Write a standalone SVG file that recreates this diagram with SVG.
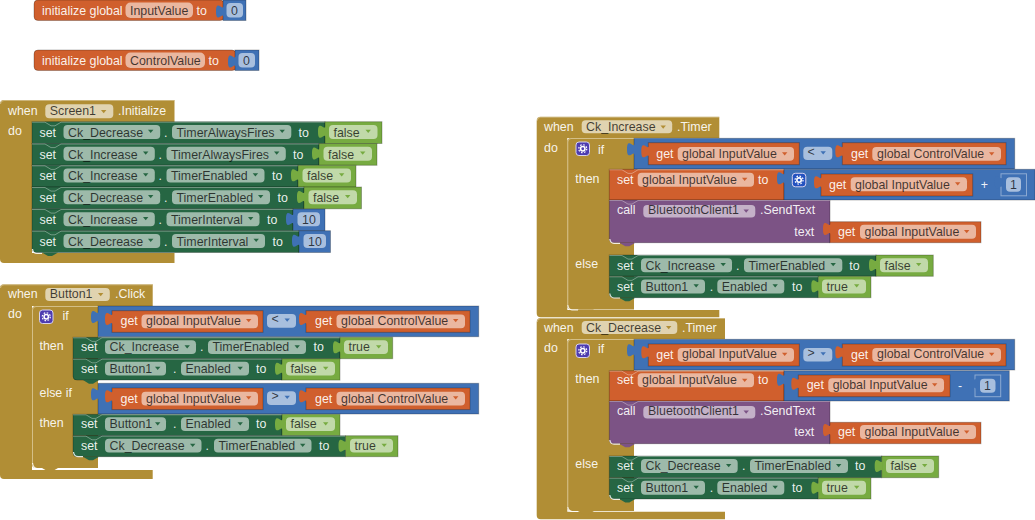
<svg xmlns="http://www.w3.org/2000/svg" width="1035" height="520" viewBox="0 0 1035 520">
<style>
text{font-family:"Liberation Sans",Arial,sans-serif;font-size:12.4px}
.w{fill:#fff;fill-opacity:.92}
.d{fill:#000;fill-opacity:.72}
.p{fill:#fff;fill-opacity:.55}
.c{fill:#e0d3b0}
.br{fill:#b18e35}.g{fill:#266643}.l{fill:#77ab41}.b{fill:#3f71b5}.o{fill:#d05f2d}.u{fill:#7c5385}
.e{stroke:#000;stroke-opacity:.25;stroke-width:1}
.hl{fill:none;stroke:#fff;stroke-opacity:.35;stroke-width:1}
.cn{fill:none;stroke:#fff;stroke-opacity:.85;stroke-width:1.2}
.ln{fill:none;stroke:#d4bf87;stroke-width:1}
.s{stroke:#fff;stroke-opacity:.4;stroke-width:1}
</style>
<defs>
<path id="a" d="M0 0h5.4l-2.7 3.2z"/>
<path id="t" d="M1 3c0 9-8-7-8 7s8-2 8 7z"/>
<path id="n" d="M0 0l6 3.6h4l6-3.6z"/>
<g id="gp"><rect width="13.5" height="13.5" rx="3" stroke="#d7d2ee" stroke-width="1"/><circle cx="6.75" cy="6.75" r="2.2" fill="none" stroke="#fff" stroke-width="1.6"/><circle cx="6.75" cy="6.75" r="4" fill="none" stroke="#fff" stroke-width="1.2" stroke-dasharray="1.6 1.54"/></g>
</defs>

<g id="init-input">
<rect class="o e" x="34" y="0" width="190" height="20.5" rx="4"/>
<text class="w" x="42" y="15">initialize global</text>
<rect class="p" x="125.5" y="2.5" width="67.5" height="15.5" rx="5"/><text class="d" x="130" y="15">InputValue</text>
<text class="w" x="196.5" y="15">to</text>
<g class="b"><rect class="e" x="223" y="0" width="23" height="20.5"/><use href="#t" x="223" y="1.5"/><rect class="p" x="226.5" y="3" width="16.5" height="14.5" rx="4"/><text class="d" x="231" y="15">0</text></g>
</g>

<g id="init-control">
<rect class="o e" x="34" y="50" width="202" height="20.5" rx="4"/>
<text class="w" x="42" y="65">initialize global</text>
<rect class="p" x="125.5" y="52.5" width="79.5" height="15.5" rx="5"/><text class="d" x="130" y="65">ControlValue</text>
<text class="w" x="208.5" y="65">to</text>
<g class="b"><rect class="e" x="235" y="50" width="24" height="20.5"/><use href="#t" x="235" y="51.5"/><rect class="p" x="238.5" y="53" width="16.5" height="14.5" rx="4"/><text class="d" x="243" y="65">0</text></g>
</g>

<g id="screen1-initialize">
<path class="br" d="M4 100H174.5V122H32V253H174.5V263H4Q0 263 0 259V104Q0 100 4 100Z"/>
<path class="hl" d="M.5 104Q.5 100.5 4 100.5H174"/>
<text class="w" x="8" y="115">when</text>
<rect class="c" x="45.3" y="104.3" width="68" height="14" rx="4"/><text class="d" x="49.8" y="115">Screen1</text><use class="br" href="#a" x="101" y="110"/>
<text class="w" x="118" y="115">.Initialize</text>
<text class="w" x="8" y="135">do</text>

<g class="g" transform="translate(0,121.7)"><rect class="e" x="32" width="293" height="21.8"/><path class="hl" d="M32 .5H45l6 3.6h4l6-3.6H325"/>
<text class="w" x="39.5" y="15">set</text><rect class="p" x="63.5" y="3.3" width="96.7" height="14" rx="4"/><text class="d" x="68" y="15">Ck_Decrease</text><use href="#a" x="148" y="8"/>
<text class="w" x="164" y="15">.</text><rect class="p" x="172" y="3.3" width="119.3" height="14" rx="4"/><text class="d" x="176.5" y="15">TimerAlwaysFires</text><use href="#a" x="279.5" y="8"/><text class="w" x="298.5" y="15">to</text>
<g class="l"><rect class="e" x="325" width="57" height="21.8"/><use href="#t" x="325"/><rect class="p" x="329" y="3.3" width="48.5" height="14" rx="4"/><text class="d" x="333.5" y="15">false</text><use href="#a" x="365.5" y="8"/></g></g>

<g class="g" transform="translate(0,143.5)"><rect class="e" x="32" width="287" height="21.8"/><path class="hl" d="M32 .5H45l6 3.6h4l6-3.6H319"/>
<text class="w" x="39.5" y="15">set</text><rect class="p" x="63.5" y="3.3" width="91.3" height="14" rx="4"/><text class="d" x="68" y="15">Ck_Increase</text><use href="#a" x="143" y="8"/>
<text class="w" x="158.5" y="15">.</text><rect class="p" x="166.5" y="3.3" width="119.3" height="14" rx="4"/><text class="d" x="171" y="15">TimerAlwaysFires</text><use href="#a" x="274" y="8"/><text class="w" x="293" y="15">to</text>
<g class="l"><rect class="e" x="319" width="58" height="21.8"/><use href="#t" x="319"/><rect class="p" x="323.5" y="3.3" width="48.5" height="14" rx="4"/><text class="d" x="328" y="15">false</text><use href="#a" x="360" y="8"/></g></g>

<g class="g" transform="translate(0,165.3)"><rect class="e" x="32" width="266" height="21.8"/><path class="hl" d="M32 .5H45l6 3.6h4l6-3.6H298"/>
<text class="w" x="39.5" y="15">set</text><rect class="p" x="63.5" y="3.3" width="91.3" height="14" rx="4"/><text class="d" x="68" y="15">Ck_Increase</text><use href="#a" x="143" y="8"/>
<text class="w" x="158.5" y="15">.</text><rect class="p" x="166.5" y="3.3" width="98" height="14" rx="4"/><text class="d" x="171" y="15">TimerEnabled</text><use href="#a" x="252.7" y="8"/><text class="w" x="272" y="15">to</text>
<g class="l"><rect class="e" x="298" width="58" height="21.8"/><use href="#t" x="298"/><rect class="p" x="302.5" y="3.3" width="48.5" height="14" rx="4"/><text class="d" x="307" y="15">false</text><use href="#a" x="339" y="8"/></g></g>

<g class="g" transform="translate(0,187)"><rect class="e" x="32" width="272" height="21.8"/><path class="hl" d="M32 .5H45l6 3.6h4l6-3.6H304"/>
<text class="w" x="39.5" y="15">set</text><rect class="p" x="63.5" y="3.3" width="96.7" height="14" rx="4"/><text class="d" x="68" y="15">Ck_Decrease</text><use href="#a" x="148" y="8"/>
<text class="w" x="164" y="15">.</text><rect class="p" x="172" y="3.3" width="98" height="14" rx="4"/><text class="d" x="176.5" y="15">TimerEnabled</text><use href="#a" x="258" y="8"/><text class="w" x="277.5" y="15">to</text>
<g class="l"><rect class="e" x="304" width="57.5" height="21.8"/><use href="#t" x="304"/><rect class="p" x="308.5" y="3.3" width="48.5" height="14" rx="4"/><text class="d" x="313" y="15">false</text><use href="#a" x="345" y="8"/></g></g>

<g class="g" transform="translate(0,209)"><rect class="e" x="32" width="261" height="21.8"/><path class="hl" d="M32 .5H45l6 3.6h4l6-3.6H293"/>
<text class="w" x="39.5" y="15">set</text><rect class="p" x="63.5" y="3.3" width="91.3" height="14" rx="4"/><text class="d" x="68" y="15">Ck_Increase</text><use href="#a" x="143" y="8"/>
<text class="w" x="158.5" y="15">.</text><rect class="p" x="166.5" y="3.3" width="93" height="14" rx="4"/><text class="d" x="171" y="15">TimerInterval</text><use href="#a" x="248" y="8"/><text class="w" x="267" y="15">to</text>
<g class="b"><rect class="e" x="293" width="32" height="21.8"/><use href="#t" x="293"/><rect class="p" x="297.5" y="3.3" width="22.5" height="14" rx="4"/><text class="d" x="302" y="15">10</text></g></g>

<g class="g" transform="translate(0,230.7)"><path class="e" d="M32 0H299V21.8H36Q32 21.8 32 18Z"/><path class="hl" d="M32 .5H45l6 3.6h4l6-3.6H299"/><use href="#n" x="42" y="21.8"/>
<text class="w" x="39.5" y="15">set</text><rect class="p" x="63.5" y="3.3" width="96.7" height="14" rx="4"/><text class="d" x="68" y="15">Ck_Decrease</text><use href="#a" x="148" y="8"/>
<text class="w" x="164" y="15">.</text><rect class="p" x="172" y="3.3" width="93" height="14" rx="4"/><text class="d" x="176.5" y="15">TimerInterval</text><use href="#a" x="253.5" y="8"/><text class="w" x="272.5" y="15">to</text>
<g class="b"><rect class="e" x="299" width="31.5" height="21.8"/><use href="#t" x="299"/><rect class="p" x="303.5" y="3.3" width="22.5" height="14" rx="4"/><text class="d" x="308" y="15">10</text></g></g>
<path class="cn" d="M32.5 249Q33 253.5 37 253.5H42"/>
</g>

<g id="button1-click">
<path class="br" d="M4 284.3H152.7V306H32V470H152.7V479H4Q0 479 0 475V288Q0 284.3 4 284.3Z"/>
<path class="hl" d="M.5 288Q.5 284.8 4 284.8H152"/>
<text class="w" x="8" y="298.3">when</text>
<rect class="c" x="45.3" y="288" width="64.5" height="13" rx="4"/><text class="d" x="49.8" y="298.3">Button1</text><use class="br" href="#a" x="98" y="293"/>
<text class="w" x="115" y="298.3">.Click</text>
<text class="w" x="8" y="318">do</text>
<g id="if-click">
<path class="br" d="M32 310Q32 306 36 306H98V468H36Q32 468 32 464Z"/><use class="br" href="#n" x="42" y="468"/>
<path class="ln" d="M32.5 464V310Q32.5 306.5 36 306.5H98"/><path class="cn" d="M32.5 463Q33 468 37 468.5H42"/>
<use href="#gp" x="39.5" y="310" fill="#4d3cb0"/>
<text class="w" x="62.5" y="320">if</text>
<text class="w" x="39.5" y="350">then</text><text class="w" x="39.5" y="396.6">else if</text><text class="w" x="39.5" y="426.7">then</text>

<g class="b" transform="translate(0,306)"><rect class="e" x="98" width="380.7" height="30.7"/><use href="#t" x="98" y="1"/>
<rect class="p" x="267" y="8" width="29" height="13.7" rx="4"/><text class="d" x="271.5" y="17">&lt;</text><use href="#a" x="284.5" y="12.5"/>
<g class="o"><rect class="e" x="112" y="4.7" width="151" height="21.6"/><use href="#t" x="112" y="3"/><text class="w" x="120.5" y="19.3">get</text><rect class="p" x="141.5" y="8.5" width="116.5" height="13.7" rx="4"/><text class="d" x="146" y="19.3">global InputValue</text><use href="#a" x="246" y="13"/></g>
<g class="o"><rect class="e" x="306" y="4.7" width="164" height="21.6"/><use href="#t" x="306" y="3"/><text class="w" x="315" y="19.3">get</text><rect class="p" x="336.5" y="8.5" width="128.5" height="13.7" rx="4"/><text class="d" x="341" y="19.3">global ControlValue</text><use href="#a" x="453" y="13"/></g></g>

<g class="g" transform="translate(0,337.3)"><rect class="e" x="73" width="267" height="21.4"/><path class="hl" d="M73 .5H86l6 3.6h4l6-3.6H340"/>
<text class="w" x="81" y="14">set</text><rect class="p" x="105" y="3" width="91" height="13.7" rx="4"/><text class="d" x="109.5" y="14">Ck_Increase</text><use href="#a" x="184.5" y="8"/>
<text class="w" x="200" y="14">.</text><rect class="p" x="208" y="3" width="98" height="13.7" rx="4"/><text class="d" x="212.5" y="14">TimerEnabled</text><use href="#a" x="294.5" y="8"/><text class="w" x="313.6" y="14">to</text>
<g class="l"><rect class="e" x="340" width="52.7" height="21.4"/><use href="#t" x="340"/><rect class="p" x="344" y="3" width="44" height="13.7" rx="4"/><text class="d" x="348.5" y="14">true</text><use href="#a" x="376" y="8"/></g></g>

<g class="g" transform="translate(0,358.7)"><path class="e" d="M73 0H282V21.4H77Q73 21.4 73 17.5Z"/><path class="hl" d="M73 .5H86l6 3.6h4l6-3.6H282"/><use href="#n" x="83" y="21.4"/>
<text class="w" x="81" y="14">set</text><rect class="p" x="105" y="3" width="61" height="13.7" rx="4"/><text class="d" x="109.5" y="14">Button1</text><use href="#a" x="155" y="8"/>
<text class="w" x="173" y="14">.</text><rect class="p" x="181" y="3" width="68" height="13.7" rx="4"/><text class="d" x="185.5" y="14">Enabled</text><use href="#a" x="237.5" y="8"/><text class="w" x="256" y="14">to</text>
<g class="l"><rect class="e" x="282" width="58" height="21.4"/><use href="#t" x="282"/><rect class="p" x="286" y="3" width="49" height="13.7" rx="4"/><text class="d" x="290.5" y="14">false</text><use href="#a" x="323" y="8"/></g></g>

<g class="b" transform="translate(0,383.3)"><rect class="e" x="98" width="380.7" height="30.7"/><use href="#t" x="98" y="1"/>
<rect class="p" x="267" y="8" width="29" height="13.7" rx="4"/><text class="d" x="271.5" y="17">&gt;</text><use href="#a" x="284.5" y="12.5"/>
<g class="o"><rect class="e" x="112" y="4.7" width="151" height="21.6"/><use href="#t" x="112" y="3"/><text class="w" x="120.5" y="19.3">get</text><rect class="p" x="141.5" y="8.5" width="116.5" height="13.7" rx="4"/><text class="d" x="146" y="19.3">global InputValue</text><use href="#a" x="246" y="13"/></g>
<g class="o"><rect class="e" x="306" y="4.7" width="164" height="21.6"/><use href="#t" x="306" y="3"/><text class="w" x="315" y="19.3">get</text><rect class="p" x="336.5" y="8.5" width="128.5" height="13.7" rx="4"/><text class="d" x="341" y="19.3">global ControlValue</text><use href="#a" x="453" y="13"/></g></g>

<g class="g" transform="translate(0,414.3)"><rect class="e" x="73" width="209" height="21.4"/><path class="hl" d="M73 .5H86l6 3.6h4l6-3.6H282"/>
<text class="w" x="81" y="14">set</text><rect class="p" x="105" y="3" width="61" height="13.7" rx="4"/><text class="d" x="109.5" y="14">Button1</text><use href="#a" x="155" y="8"/>
<text class="w" x="173" y="14">.</text><rect class="p" x="181" y="3" width="68" height="13.7" rx="4"/><text class="d" x="185.5" y="14">Enabled</text><use href="#a" x="237.5" y="8"/><text class="w" x="256" y="14">to</text>
<g class="l"><rect class="e" x="282" width="58" height="21.4"/><use href="#t" x="282"/><rect class="p" x="286" y="3" width="49" height="13.7" rx="4"/><text class="d" x="290.5" y="14">false</text><use href="#a" x="323" y="8"/></g></g>

<g class="g" transform="translate(0,435.7)"><path class="e" d="M73 0H345.5V21H77Q73 21 73 17Z"/><path class="hl" d="M73 .5H86l6 3.6h4l6-3.6H345"/><use href="#n" x="83" y="21"/>
<text class="w" x="81" y="14">set</text><rect class="p" x="105" y="3" width="96.5" height="13.7" rx="4"/><text class="d" x="109.5" y="14">Ck_Decrease</text><use href="#a" x="190" y="8"/>
<text class="w" x="205.5" y="14">.</text><rect class="p" x="214" y="3" width="97.5" height="13.7" rx="4"/><text class="d" x="218.5" y="14">TimerEnabled</text><use href="#a" x="300" y="8"/><text class="w" x="319" y="14">to</text>
<g class="l"><rect class="e" x="345.5" width="52.5" height="21"/><use href="#t" x="345.5"/><rect class="p" x="350" y="3" width="43" height="13.7" rx="4"/><text class="d" x="354.5" y="14">true</text><use href="#a" x="381.5" y="8"/></g></g>
<path class="cn" d="M73.5 452Q74 456.5 78 456.7H83"/>
</g>
</g>

<g id="ck-increase-timer">
<path class="br" d="M540.7 116.7H719.3V138H567.3V310H719.3V317.3H540.7Q536.7 317.3 536.7 313.3V120.7Q536.7 116.7 540.7 116.7Z"/>
<path class="hl" d="M537.2 120.7Q537.2 117.2 540.7 117.2H719"/>
<text class="w" x="544" y="131">when</text>
<rect class="c" x="581.7" y="120.3" width="90.5" height="13" rx="4"/><text class="d" x="586" y="131">Ck_Increase</text><use class="br" href="#a" x="660.5" y="125.5"/>
<text class="w" x="677" y="131">.Timer</text>
<text class="w" x="544" y="152.3">do</text>
<g id="if-increase">
<path class="br" d="M567.3 142Q567.3 138 571 138H634V309.5H571Q567.3 309.5 567.3 305.5Z"/><use class="br" href="#n" x="578" y="309.5"/>
<path class="ln" d="M567.8 305V142Q567.8 138.5 571 138.5H634"/><path class="cn" d="M567.8 305Q568.3 309.5 572 310H578"/>
<use href="#gp" x="576" y="142" fill="#4d3cb0"/>
<text class="w" x="598" y="153.5">if</text>
<text class="w" x="575.3" y="182.7">then</text><text class="w" x="575.3" y="268.3">else</text>

<g class="b" transform="translate(0,138.3)"><rect class="e" x="634" width="380.7" height="30.7"/><use href="#t" x="634" y="1"/>
<rect class="p" x="803.3" y="8.4" width="29" height="13.4" rx="4"/><text class="d" x="807.5" y="17.5">&lt;</text><use href="#a" x="820.5" y="13"/>
<g class="o"><rect class="e" x="648.3" y="4.4" width="151" height="22"/><use href="#t" x="648.3" y="3"/><text class="w" x="656.3" y="20">get</text><rect class="p" x="677.7" y="8.7" width="116.3" height="13.7" rx="4"/><text class="d" x="682" y="20">global InputValue</text><use href="#a" x="782" y="14"/></g>
<g class="o"><rect class="e" x="842.3" y="4.4" width="163.7" height="22"/><use href="#t" x="842.3" y="3"/><text class="w" x="851" y="20">get</text><rect class="p" x="872.3" y="8.7" width="128.7" height="13.7" rx="4"/><text class="d" x="877" y="20">global ControlValue</text><use href="#a" x="989" y="14"/></g></g>

<g class="o" transform="translate(0,169.3)"><rect class="e" x="609.3" width="174.7" height="30.7"/><path class="hl" d="M609.3 .5H622l6 3.6h4l6-3.6H784"/>
<text class="w" x="617" y="14.5">set</text><rect class="p" x="637.7" y="3.5" width="116.3" height="14" rx="4"/><text class="d" x="642" y="14.5">global InputValue</text><use href="#a" x="742" y="8.5"/><text class="w" x="758" y="14.5">to</text>
<g class="b"><rect class="e" x="784" width="251" height="30.7"/><use href="#t" x="784" y="-1"/>
<use href="#gp" x="792.3" y="4" fill="#2452c0"/>
<g class="o"><rect class="e" x="821" y="4.7" width="151.7" height="22"/><use href="#t" x="821" y="3"/><text class="w" x="829" y="20">get</text><rect class="p" x="850.7" y="8" width="116.3" height="14" rx="4"/><text class="d" x="855" y="19.5">global InputValue</text><use href="#a" x="955" y="13"/></g>
<text class="w" x="980.7" y="19.5">+</text>
<g><rect class="s" x="1001" y="4.5" width="25.5" height="22" fill="none"/><use href="#t" x="1001.7" y="3"/><rect class="p" x="1006" y="8" width="15" height="14.5" rx="4"/><text class="d" x="1010" y="19.5">1</text></g></g></g>

<g class="u" transform="translate(0,200)"><path class="e" d="M609.3 0H830V42.7H613.3Q609.3 42.7 609.3 38.7Z"/><path class="hl" d="M609.3 .5H622l6 3.6h4l6-3.6H830"/><use href="#n" x="619.3" y="42.7"/>
<text class="w" x="617" y="14.3">call</text><rect class="p" x="643.3" y="5" width="112" height="12.5" rx="4"/><text class="d" x="648" y="14.3">BluetoothClient1</text><use href="#a" x="743.5" y="9.5"/>
<text class="w" x="760" y="14.3">.SendText</text><text class="w" x="794.3" y="35.7">text</text>
<g class="o"><rect class="e" x="830" y="21.7" width="151" height="21"/><use href="#t" x="830" y="19"/><text class="w" x="838" y="36">get</text><rect class="p" x="860" y="24.7" width="116" height="14" rx="4"/><text class="d" x="864.5" y="35.7">global InputValue</text><use href="#a" x="964" y="30"/></g></g>
<path class="cn" d="M609.8 239Q610.3 243 614 243.3H620"/>

<g class="g" transform="translate(0,255)"><rect class="e" x="609.3" width="266.7" height="21.3"/><path class="hl" d="M609.3 .5H622l6 3.6h4l6-3.6H876"/>
<text class="w" x="617" y="15">set</text><rect class="p" x="641" y="3.3" width="91" height="14" rx="4"/><text class="d" x="645.5" y="15">Ck_Increase</text><use href="#a" x="720.5" y="8"/>
<text class="w" x="736" y="15">.</text><rect class="p" x="744" y="3.3" width="98.3" height="14" rx="4"/><text class="d" x="748.5" y="15">TimerEnabled</text><use href="#a" x="830.5" y="8"/><text class="w" x="849.3" y="15">to</text>
<g class="l"><rect class="e" x="876" width="57.3" height="21.3"/><use href="#t" x="876"/><rect class="p" x="880" y="3.3" width="48" height="14" rx="4"/><text class="d" x="884.5" y="15">false</text><use href="#a" x="916" y="8"/></g></g>

<g class="g" transform="translate(0,276.3)"><path class="e" d="M609.3 0H818.3V21.4H613.3Q609.3 21.4 609.3 17.4Z"/><path class="hl" d="M609.3 .5H622l6 3.6h4l6-3.6H818"/><use href="#n" x="619.3" y="21.4"/>
<text class="w" x="617" y="15">set</text><rect class="p" x="641" y="3.3" width="64" height="14" rx="4"/><text class="d" x="645.5" y="15">Button1</text><use href="#a" x="693.5" y="8"/>
<text class="w" x="709.7" y="15">.</text><rect class="p" x="717.3" y="3.3" width="67" height="14" rx="4"/><text class="d" x="721.8" y="15">Enabled</text><use href="#a" x="772.5" y="8"/><text class="w" x="792" y="15">to</text>
<g class="l"><rect class="e" x="818.3" width="52.7" height="21.4"/><use href="#t" x="818.3"/><rect class="p" x="822" y="3.3" width="44" height="14" rx="4"/><text class="d" x="826.5" y="15">true</text><use href="#a" x="854" y="8"/></g></g>
<path class="cn" d="M609.8 293.5Q610.3 297.7 614 298H620"/>
</g>
</g>

<g id="ck-decrease-timer">
<path class="br" d="M540.7 318H725V339H567.3V511.7H725V519.3H540.7Q536.7 519.3 536.7 515.3V322Q536.7 318 540.7 318Z"/>
<path class="hl" d="M537.2 322Q537.2 318.5 540.7 318.5H725"/>
<text class="w" x="544" y="331.7">when</text>
<rect class="c" x="581.7" y="321" width="95.6" height="13" rx="4"/><text class="d" x="586" y="331.7">Ck_Decrease</text><use class="br" href="#a" x="666" y="326"/>
<text class="w" x="682" y="331.7">.Timer</text>
<text class="w" x="544" y="352.3">do</text>
<g id="if-decrease">
<path class="br" d="M567.3 343Q567.3 339 571 339H634V511H571Q567.3 511 567.3 507Z"/><use class="br" href="#n" x="578" y="511"/>
<path class="ln" d="M567.8 507V343Q567.8 339.5 571 339.5H634"/><path class="cn" d="M567.8 507Q568.3 511 572 511.5H578"/>
<use href="#gp" x="576" y="344" fill="#4d3cb0"/>
<text class="w" x="598" y="353.3">if</text>
<text class="w" x="575.3" y="383.3">then</text><text class="w" x="575.3" y="468.3">else</text>

<g class="b" transform="translate(0,339.3)"><rect class="e" x="634" width="380.7" height="30.7"/><use href="#t" x="634" y="1"/>
<rect class="p" x="803.3" y="8.7" width="29" height="13.4" rx="4"/><text class="d" x="807.5" y="17.5">&gt;</text><use href="#a" x="820.5" y="13"/>
<g class="o"><rect class="e" x="648.3" y="4.7" width="151" height="22"/><use href="#t" x="648.3" y="3"/><text class="w" x="656.3" y="19.3">get</text><rect class="p" x="677.7" y="8.7" width="116.3" height="13.7" rx="4"/><text class="d" x="682" y="19">global InputValue</text><use href="#a" x="782" y="13.5"/></g>
<g class="o"><rect class="e" x="842.3" y="4.7" width="163.7" height="22"/><use href="#t" x="842.3" y="3"/><text class="w" x="851" y="19.3">get</text><rect class="p" x="872.3" y="8.7" width="128.7" height="13.7" rx="4"/><text class="d" x="877" y="19">global ControlValue</text><use href="#a" x="989" y="13.5"/></g></g>

<g class="o" transform="translate(0,370.7)"><rect class="e" x="609.3" width="174.7" height="30.3"/><path class="hl" d="M609.3 .5H622l6 3.6h4l6-3.6H784"/>
<text class="w" x="617" y="13.3">set</text><rect class="p" x="637.7" y="2.5" width="116.3" height="14" rx="4"/><text class="d" x="642" y="13.3">global InputValue</text><use href="#a" x="742" y="8"/><text class="w" x="758" y="13.3">to</text>
<g class="b"><rect class="e" x="784" width="225.3" height="30.3"/><use href="#t" x="784" y="-1"/>
<g class="o"><rect class="e" x="798.3" y="4.3" width="151.7" height="21.7"/><use href="#t" x="798.3" y="3"/><text class="w" x="806.7" y="18.8">get</text><rect class="p" x="828.3" y="7.5" width="115.7" height="14" rx="4"/><text class="d" x="832.7" y="18.5">global InputValue</text><use href="#a" x="932" y="12.5"/></g>
<text class="w" x="958" y="19">-</text>
<g><rect class="s" x="975" y="4.3" width="25.7" height="21.7" fill="none"/><use href="#t" x="975" y="3"/><rect class="p" x="980" y="8" width="15.5" height="14" rx="4"/><text class="d" x="984" y="19">1</text></g></g></g>

<g class="u" transform="translate(0,401)"><path class="e" d="M609.3 0H830V42.7H613.3Q609.3 42.7 609.3 38.7Z"/><path class="hl" d="M609.3 .5H622l6 3.6h4l6-3.6H830"/><use href="#n" x="619.3" y="42.7"/>
<text class="w" x="617" y="14">call</text><rect class="p" x="643.3" y="5" width="112" height="12.5" rx="4"/><text class="d" x="648" y="14">BluetoothClient1</text><use href="#a" x="743.5" y="9.5"/>
<text class="w" x="760" y="14">.SendText</text><text class="w" x="794.3" y="34.7">text</text>
<g class="o"><rect class="e" x="830" y="21.3" width="151" height="21.4"/><use href="#t" x="830" y="19"/><text class="w" x="838" y="35">get</text><rect class="p" x="860" y="24" width="116" height="14" rx="4"/><text class="d" x="864.5" y="34.8">global InputValue</text><use href="#a" x="964" y="29.5"/></g></g>
<path class="cn" d="M609.8 440Q610.3 444 614 444.2H620"/>

<g class="g" transform="translate(0,456)"><rect class="e" x="609.3" width="272.4" height="21.7"/><path class="hl" d="M609.3 .5H622l6 3.6h4l6-3.6H881"/>
<text class="w" x="617" y="14">set</text><rect class="p" x="641" y="3" width="96.7" height="14" rx="4"/><text class="d" x="645.5" y="14">Ck_Decrease</text><use href="#a" x="726" y="8"/>
<text class="w" x="742" y="14">.</text><rect class="p" x="750" y="3" width="98" height="14" rx="4"/><text class="d" x="754.5" y="14">TimerEnabled</text><use href="#a" x="836" y="8"/><text class="w" x="855" y="14">to</text>
<g class="l"><rect class="e" x="881.7" width="57" height="21.7"/><use href="#t" x="881.7"/><rect class="p" x="886" y="3" width="48" height="14" rx="4"/><text class="d" x="890.5" y="14">false</text><use href="#a" x="922" y="8"/></g></g>

<g class="g" transform="translate(0,477.7)"><path class="e" d="M609.3 0H818.3V21.3H613.3Q609.3 21.3 609.3 17.3Z"/><path class="hl" d="M609.3 .5H622l6 3.6h4l6-3.6H818"/><use href="#n" x="619.3" y="21.3"/>
<text class="w" x="617" y="14">set</text><rect class="p" x="641" y="3" width="64" height="14" rx="4"/><text class="d" x="645.5" y="14">Button1</text><use href="#a" x="693.5" y="8"/>
<text class="w" x="709.7" y="14">.</text><rect class="p" x="717.3" y="3" width="67" height="14" rx="4"/><text class="d" x="721.8" y="14">Enabled</text><use href="#a" x="772.5" y="8"/><text class="w" x="792" y="14">to</text>
<g class="l"><rect class="e" x="818.3" width="52.7" height="21.3"/><use href="#t" x="818.3"/><rect class="p" x="822" y="3" width="44" height="14" rx="4"/><text class="d" x="826.5" y="14">true</text><use href="#a" x="854" y="8"/></g></g>
<path class="cn" d="M609.8 495Q610.3 499 614 499.3H620"/>
</g>
</g>
</svg>
